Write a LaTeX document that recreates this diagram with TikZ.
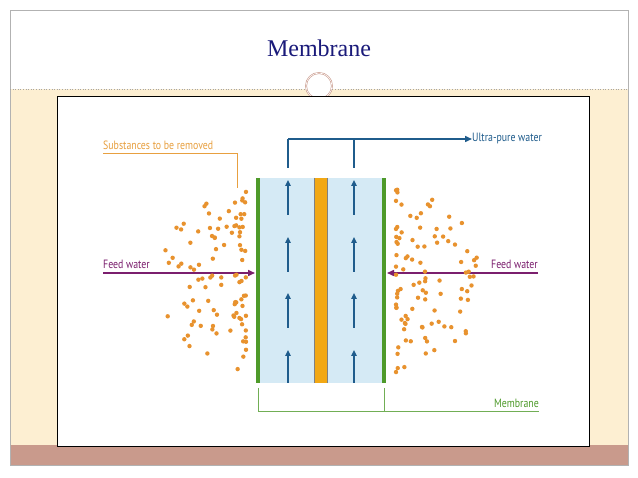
\documentclass[tikz,border=0pt]{standalone}
\usepackage{fontspec}
\setmainfont{Liberation Serif}
\newfontfamily\lab{PT Sans}[FakeStretch=0.82]
\usetikzlibrary{arrows.meta}
\definecolor{beige}{HTML}{FDEFD2}
\definecolor{band}{HTML}{C99A8C}
\definecolor{navy}{HTML}{1A1A7A}
\definecolor{wblue}{HTML}{1F5C8C}
\definecolor{lblue}{HTML}{D5EAF5}
\definecolor{mgreen}{HTML}{4E9A2A}
\definecolor{orng}{HTML}{F2A814}
\definecolor{dot}{HTML}{E8922E}
\definecolor{purp}{HTML}{7B1F6E}
\definecolor{subst}{HTML}{E8A040}
\begin{document}
\begin{tikzpicture}[x=1pt,y=-1pt,
  lbl/.style={font=\fontsize{12}{13}\selectfont\lab, inner sep=0pt},
  uparr/.style={wblue, line width=1.5pt, -{Triangle[length=6pt,width=5.5pt]}},
  feed/.style={purp, line width=1.5pt, -{Triangle[length=7pt,width=6pt]}}]
\useasboundingbox (0,0) rectangle (638,478);
\fill[white] (0,0) rectangle (638,478);
\fill[beige] (10,89) rectangle (628,445);
\fill[band] (10,445) rectangle (628,465);
\draw[gray!60, line width=0.6pt] (10,10) rectangle (628,465);
\draw[gray!70, dotted, line width=0.6pt] (10,89) -- (628,89);
\node[font=\fontsize{24}{28}\selectfont, text=navy] (title) at (319,48) {Membrane};
\draw[band, line width=1.8pt, fill=white] (319,86) circle (13);
\draw[white, line width=0.6pt] (319,86) circle (13);
\draw[black, line width=1pt, fill=white] (57,97) rectangle (589,447);
% cell
\fill[lblue] (258,178) rectangle (384,383);
\fill[orng] (314,178) rectangle (327,383);
\draw[gray, line width=0.6pt] (314,178) -- (314,383) (327,178) -- (327,383);
\fill[mgreen] (256,178) rectangle (260,383);
\fill[mgreen] (382,178) rectangle (386,383);
\foreach \x in {288,354}{
  \foreach \a/\b in {215/180,272/237,328/293,383/350}{
    \draw[uparr] (\x,\a) -- (\x,\b);
  }
  \draw[wblue, line width=1.5pt] (\x,168) -- (\x,139);
}
\node[lbl, text=wblue, anchor=west] (upw) at (472,139) {Ultra-pure water};
\draw[wblue, line width=1.5pt, -{Triangle[length=7pt,width=6pt]}] (288,139) -- (upw.west);
% feed
\node[lbl, text=purp, anchor=south west] (fl) at (103,269) {Feed water};
\node[lbl, text=purp, anchor=south east] (fr) at (538,269) {Feed water};
\coordinate (fla) at (103,273); \coordinate (flb) at (255,273);
\coordinate (fra) at (538,273); \coordinate (frb) at (387,273);
\draw[feed] (fla) -- (flb);
\draw[feed] (fra) -- (frb);
% substances
\node[lbl, text=subst, anchor=south west] (sub) at (103,150) {Substances to be removed};
\draw[subst, line width=0.8pt] (103,153) -- (237,153) -- (237,188);
% membrane label
\node[lbl, text=mgreen, anchor=south east] (mem) at (539,408) {Membrane};
\draw[mgreen!80, line width=0.8pt] (258,388) -- (258,411) -- (539,411) (384,388) -- (384,411);
% dots
\pgfmathsetseed{11}
\foreach \i in {1,...,100}{
  \pgfmathsetmacro{\dx}{5+82*pow(rnd,1.8)}
  \pgfmathsetmacro{\hh}{92*sqrt(max(0.05,1-(\dx/92)^2))}
  \pgfmathsetmacro{\dy}{(2*rnd-1)*\hh}
  \fill[dot] (251-\dx,281+\dy) circle (2.2);
}
\foreach \i in {1,...,100}{
  \pgfmathsetmacro{\dx}{5+82*pow(rnd,1.8)}
  \pgfmathsetmacro{\hh}{92*sqrt(max(0.05,1-(\dx/92)^2))}
  \pgfmathsetmacro{\dy}{(2*rnd-1)*\hh}
  \fill[dot] (391+\dx,281+\dy) circle (2.2);
}
\end{tikzpicture}
\end{document}
